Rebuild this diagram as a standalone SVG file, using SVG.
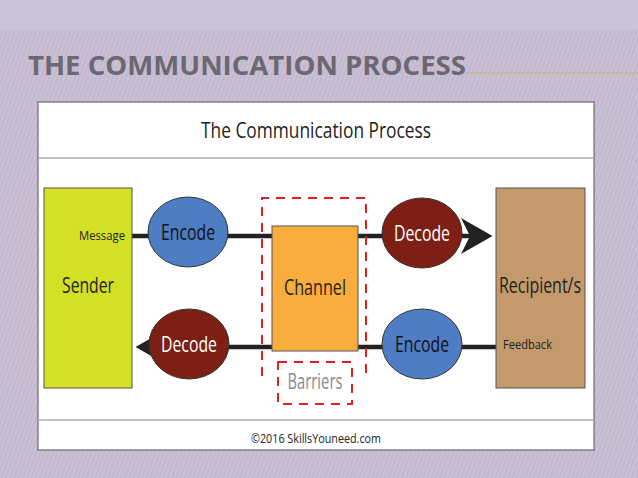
<svg xmlns="http://www.w3.org/2000/svg" width="638" height="478" viewBox="0 0 638 478">
<defs>
<pattern id="st" width="4" height="4" patternUnits="userSpaceOnUse" patternTransform="rotate(20)"><rect width="4" height="4" fill="#c9bfd3"/><rect width="1.5" height="4" fill="#b8acc4"/></pattern>
<marker id="ah" markerWidth="7" markerHeight="8" refX="6" refY="4" orient="auto" markerUnits="strokeWidth"><path d="M0,0 L7,4 L0,8 L2,4 Z" fill="#222"/></marker>
</defs>
<style>
text{font-family:"Open Sans","DejaVu Sans",sans-serif}
.lbl{font-size:22px;text-anchor:middle}
.ln{stroke:#222;stroke-width:4.5;fill:none}
.dash{stroke:#e02020;stroke-width:2;stroke-dasharray:9,7;fill:none}
</style>
<rect width="638" height="478" fill="#cdc3d7"/>
<rect y="30" width="638" height="448" fill="url(#st)" opacity="0.6"/>
<line x1="465" y1="73" x2="638" y2="73" stroke="#c8b070" stroke-width="1"/>
<text x="28" y="75" font-family="'Open Sans',sans-serif" font-weight="bold" font-size="27" fill="#6b6773" textLength="438" lengthAdjust="spacingAndGlyphs">THE COMMUNICATION PROCESS</text>
<rect x="38" y="102" width="556" height="348" fill="#fff" stroke="#555" stroke-width="1"/>
<line x1="38" y1="158" x2="594" y2="158" stroke="#aaa" stroke-width="1.5"/>
<line x1="38" y1="420" x2="594" y2="420" stroke="#aaa" stroke-width="1.5"/>
<text x="316" y="138" font-size="22" text-anchor="middle" fill="#222" font-family="'Liberation Sans',sans-serif" textLength="230" lengthAdjust="spacingAndGlyphs">The Communication Process</text>
<text x="316" y="443" font-size="12" text-anchor="middle" fill="#222" font-family="'Liberation Sans',sans-serif" textLength="130" lengthAdjust="spacingAndGlyphs">©2016 SkillsYouneed.com</text>
<g id="connectors">
<line class="ln" x1="132" y1="236" x2="488" y2="236" marker-end="url(#ah)"/>
<line class="ln" x1="496" y1="347" x2="140" y2="347" marker-end="url(#ah)"/>
</g>
<g id="barriers">
<path class="dash" d="M262,376 V198 H366 V376"/>
<rect class="dash" x="278" y="362" width="74" height="42"/>
<text x="315" y="389" class="lbl" fill="#8a8a8a" textLength="55" lengthAdjust="spacingAndGlyphs">Barriers</text>
</g>
<g id="sender"><rect x="44" y="188" width="88" height="200" fill="#d4e024" stroke="#555"/><text x="88" y="293" class="lbl" fill="#222" textLength="52" lengthAdjust="spacingAndGlyphs">Sender</text><text x="125" y="240" font-size="13" text-anchor="end" fill="#222" textLength="46" lengthAdjust="spacingAndGlyphs">Message</text></g>
<g id="recipient"><rect x="496" y="188" width="89" height="200" fill="#c49a6c" stroke="#555"/><text x="540" y="293" class="lbl" fill="#222" textLength="82" lengthAdjust="spacingAndGlyphs">Recipient/s</text><text x="503" y="349" font-size="13" fill="#222" textLength="49" lengthAdjust="spacingAndGlyphs">Feedback</text></g>
<g id="encode1"><ellipse cx="188" cy="232" rx="40" ry="35" fill="#4f7dc4" stroke="#333"/><text x="188" y="240" class="lbl" fill="#111" textLength="54" lengthAdjust="spacingAndGlyphs">Encode</text></g>
<g id="decode1"><ellipse cx="422" cy="233" rx="40" ry="35" fill="#7d1f15" stroke="#333"/><text x="422" y="241" class="lbl" fill="#fff" textLength="56" lengthAdjust="spacingAndGlyphs">Decode</text></g>
<g id="channel"><rect x="272" y="226" width="86" height="125" fill="#f9ad3c" stroke="#555"/><text x="315" y="295" class="lbl" fill="#222" textLength="62" lengthAdjust="spacingAndGlyphs">Channel</text></g>
<g id="decode2"><ellipse cx="189" cy="344" rx="40" ry="35" fill="#7d1f15" stroke="#333"/><text x="189" y="352" class="lbl" fill="#fff" textLength="56" lengthAdjust="spacingAndGlyphs">Decode</text></g>
<g id="encode2"><ellipse cx="422" cy="344" rx="40" ry="35" fill="#4f7dc4" stroke="#333"/><text x="422" y="352" class="lbl" fill="#111" textLength="54" lengthAdjust="spacingAndGlyphs">Encode</text></g>
</svg>
